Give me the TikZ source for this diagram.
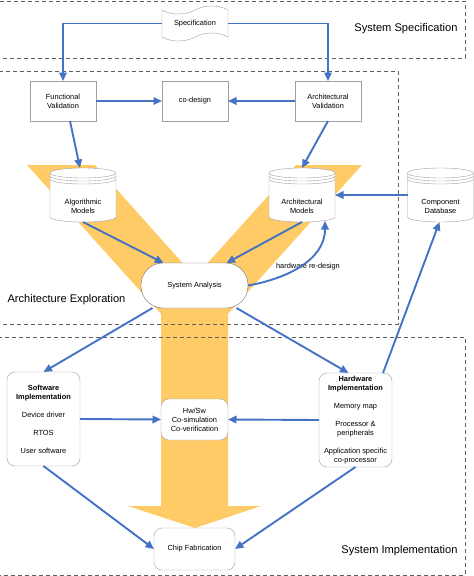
\documentclass[tikz,border=0pt]{standalone}
\usepackage{fontspec}
\setmainfont{Liberation Sans}
\usetikzlibrary{arrows.meta,shapes.symbols,backgrounds}

\definecolor{flowblue}{RGB}{68,114,196}
\definecolor{yband}{RGB}{255,203,102}
\definecolor{boxgray}{RGB}{160,160,160}
\definecolor{darkgray}{RGB}{115,115,115}
\definecolor{framegray}{RGB}{95,95,95}

\begin{document}
\begin{tikzpicture}[x=1pt,y=1pt,
  every node/.style={font=\fontsize{7.4}{9}\selectfont},
  box/.style={draw=boxgray,fill=white,align=center,minimum width=66pt,minimum height=40pt,inner sep=1pt,outer sep=0pt},
  roundbox/.style={box,rounded corners=8pt},
  dbase/.style={minimum width=66pt,minimum height=54pt,inner sep=0pt,outer sep=0pt},
  dbtext/.style={align=center,yshift=-11pt},
  dbline/.style={draw=boxgray,fill=white},
  flow/.style={draw=flowblue,line width=1.9pt,-{Triangle[length=8.5pt,width=7.5pt]}},
  frame/.style={draw=framegray,line width=0.9pt,dash pattern=on 4pt off 3pt},
  region/.style={font=\fontsize{11.1}{13}\selectfont}]

\useasboundingbox (0,0) rectangle (474,-576);

% dashed regions
\draw[frame] (-3,-1) rectangle (465,-58);
\draw[frame] (-3,-71) rectangle (398,-324);
\draw[frame] (-3,-337) rectangle (465,-575);

\node[region,anchor=east] (specreg) at (461,-29) {System Specification};
\node[region,anchor=west] (archreg) at (4,-300) {Architecture Exploration};
\node[region,anchor=east] (implreg) at (461,-551) {System Implementation};

% nodes
\node[box,tape,tape bend height=8pt,minimum height=35pt] (spec) at (195,-23.5) {Specification};

\node[box] (fv) at (63,-101) {Functional\\Validation};
\node[box] (cd) at (195,-101) {co-design};
\node[box] (av) at (328,-101) {Architectural\\Validation};

\node[dbase,label={[dbtext]center:Algorithmic\\Models}] (algo) at (83,-195) {};
\node[dbase,label={[dbtext]center:Architectural\\Models}] (archm) at (302,-195) {};
\node[dbase,label={[dbtext]center:Component\\Database}] (compdb) at (440.5,-195) {};

\node[box,draw=darkgray,rounded corners=22pt,minimum width=107pt,minimum height=45pt] (sa) at (194.5,-285.5) {System Analysis};

\node[roundbox,minimum width=73pt,minimum height=94pt] (sw) at (43.5,-419) {\textbf{Software}\\\textbf{Implementation}\\[9pt]Device driver\\[9pt]RTOS\\[9pt]User software};
\node[roundbox,minimum width=67pt,minimum height=41pt] (hwsw) at (194.5,-419.5) {Hw/Sw\\Co-simulation\\Co-verification};
\node[roundbox,minimum width=73pt,minimum height=94pt] (hw) at (355.5,-420) {\textbf{Hardware}\\\textbf{Implementation}\\[9pt]Memory map\\[9pt]Processor \&\\peripherals\\[9pt]Application specific\\co-processor};
\node[roundbox,minimum width=81pt,minimum height=42pt] (chip) at (194.5,-549) {Chip Fabrication};

\node (redesign) at (308,-267) {hardware re-design};

% yellow flow and databases
\begin{scope}[on background layer]
\fill[yband] (27,-165) -- (95,-165) -- (195,-277) -- (296,-165) -- (362,-165) -- (228,-314)
  -- (228,-506) -- (261,-506) -- (195,-528) -- (128,-506) -- (161,-506) -- (161,-314) -- cycle;

\foreach \n in {algo,archm,compdb}{
  \filldraw[dbline] ([yshift=-5pt]\n.north west) -- ([yshift=5pt]\n.south west)
    arc[start angle=180,end angle=360,x radius=33pt,y radius=5pt]
    -- ([yshift=-5pt]\n.north east)
    arc[start angle=0,end angle=180,x radius=33pt,y radius=5pt];
  \foreach \d in {5,8,11}
    \draw[boxgray] ([yshift=-\d*1pt]\n.north west) arc[start angle=180,end angle=360,x radius=33pt,y radius=5pt];
}
\end{scope}

% connectors
\draw[flow] (spec.west) -| (fv.north);
\draw[flow] (spec.east) -| (av.north);
\draw[flow] (fv.east) -- (cd.west);
\draw[flow] (av.west) -- (cd.east);

\draw[flow] ([xshift=7pt]fv.south) -- ([xshift=-3pt]algo.north);
\draw[flow] (av.south) -- (archm.north);
\draw[flow] (algo.south) -- ([xshift=-31pt]sa.north);
\draw[flow] (archm.south) -- ([xshift=32pt]sa.north);
\draw[flow] (compdb.west) -- (archm.east);
\draw[flow] (sa.east) to[out=10,in=-90] ([xshift=23pt,yshift=1pt]archm.south);

\draw[flow] ([xshift=-42pt]sa.south) -- (sw.north);
\draw[flow] ([xshift=42pt]sa.south) -- ([xshift=-7pt]hw.north);
\draw[flow] ([xshift=-9pt]hw.north east) -- ([xshift=-1pt]compdb.south);

\draw[flow] (sw.east) -- (hwsw.west);
\draw[flow] (hw.west) -- (hwsw.east);
\draw[flow] (sw.south) -- (chip.west);
\draw[flow] (hw.south) -- (chip.east);

\end{tikzpicture}
\end{document}
